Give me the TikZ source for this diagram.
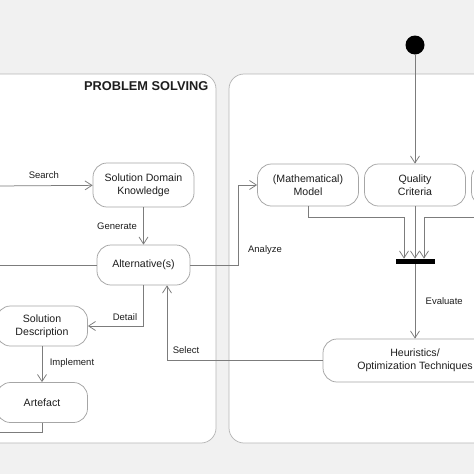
\documentclass[tikz,border=0pt]{standalone}
\usepackage{fontspec}
\setmainfont{Liberation Sans}
\usetikzlibrary{arrows.meta}
\definecolor{pagegray}{HTML}{F1F1F1}
\definecolor{linegray}{HTML}{7C7C7C}
\definecolor{boxgray}{HTML}{A6A6A6}
\definecolor{panelline}{HTML}{B8B8B8}
\definecolor{textdark}{HTML}{1E1E1E}
\begin{document}
\begin{tikzpicture}[x=1pt,y=-1pt,->,>={Straight Barb[length=7pt,width=9pt]},draw=linegray,line width=0.75pt,text=textdark]
    \tikzstyle{activity}=[rectangle,rounded corners=14pt,draw=boxgray,fill=white,align=center,inner sep=0pt,font=\fontsize{10.6}{13}\selectfont]
    \tikzstyle{panel}=[-,draw=panelline,fill=white,rounded corners=15pt]
    \tikzstyle{flowlabel}=[text=textdark,font=\fontsize{9.5}{11}\selectfont]

    % Page and the two swimlane panels
    \clip (0,0) rectangle (474,474);
    \fill[pagegray] (0,0) rectangle (474,474);
    \draw[panel] (-30,74) rectangle (216,443);
    \draw[panel] (229,74) rectangle (540,443);
    \node[anchor=east,font=\bfseries\fontsize{12.8}{14}\selectfont] (pstitle) at (212,86) {PROBLEM SOLVING};

    % Draw the problem solving activities
    \node[activity,minimum width=101,minimum height=44] (sdk) at (143.5,185) {Solution Domain\\Knowledge};
    \node[activity,minimum width=93,minimum height=40] (alt) at (143.5,265) {Alternative(s)};
    \node[activity,minimum width=91,minimum height=40] (soldesc) at (42,326) {Solution\\Description};
    \node[activity,minimum width=91,minimum height=40] (artefact) at (42,402.5) {Artefact};

    % Draw the analysis activities
    \foreach \name / \x / \txt in {model/308/(Mathematical)\\Model, quality/415/Quality\\Criteria, crit/522/}
        \node[activity,minimum width=101,minimum height=42] (\name) at (\x,185) {\txt};
    \node[activity,minimum width=184,minimum height=43] (heur) at (415,360.5) {Heuristics/\\Optimization Techniques};
    \node[circle,fill=black,minimum size=19,inner sep=0pt] (start) at (415,45) {};
    \node[rectangle,fill=black,minimum width=39,minimum height=5,inner sep=0pt] (bar) at (415,261.5) {};

    % Free ends leaving the picture
    \coordinate (srchin) at (-5,186);
    \coordinate (altout) at (-9,265);
    \coordinate (artout) at (-5,432);

    % Connect the problem solving activities
    \draw (srchin) -- node[flowlabel,above=3pt] (search) {Search} (sdk);
    \draw (sdk) -- node[flowlabel,left=3pt] (generate) {Generate} (alt);
    \draw (alt) -- (altout);
    \draw (alt.south) |- (soldesc.east);
    \draw (soldesc) -- (artefact);
    \draw[-] (artefact.south) |- (artout);
    \draw (alt.east) -- ++(48,0) |- (model.west);

    % Connect the analysis activities
    \draw (start) -- (quality);
    \draw (model.south) -- ++(0,11) -| ([xshift=-11pt]bar.north);
    \draw (quality) -- (bar);
    \draw (crit.south) -- ++(0,11) -| ([xshift=9pt]bar.north);
    \draw (bar) -- node[flowlabel,right=7pt] (evaluate) {Evaluate} (heur);
    \draw (heur.west) -| ([xshift=23.5pt]alt.south);

    % Annotate the remaining transitions
    \node[flowlabel] (detail) at (125,317) {Detail};
    \node[flowlabel] (implement) at (72,363) {Implement};
    \node[flowlabel] (analyze) at (265,250) {Analyze};
    \node[flowlabel] (select) at (186,350) {Select};
\end{tikzpicture}
\end{document}
